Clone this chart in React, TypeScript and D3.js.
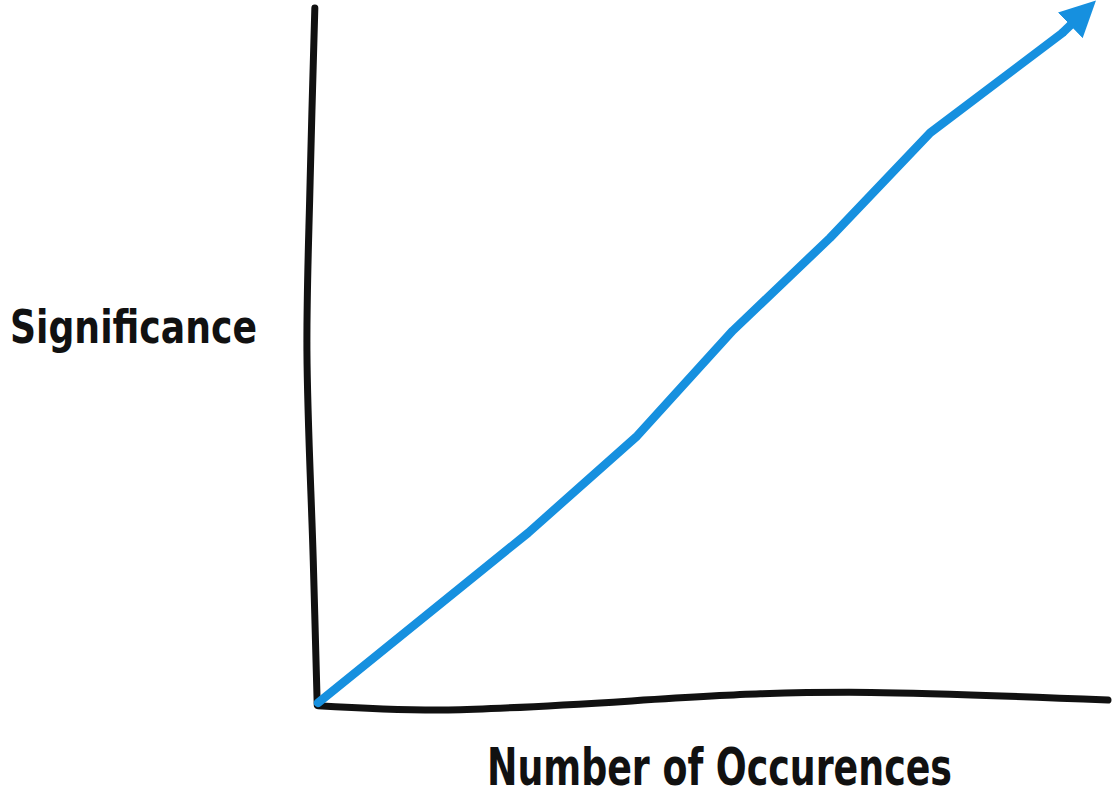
import { useEffect, useRef } from "react";
import * as d3 from "d3";

// Sketch-style chart: significance grows with number of occurrences.
// Everything is in abstract 0..100 units on both axes.
const seriesX = [0, 26.6, 40.4, 52.5, 64.8, 77.5, 94.2, 97.5];
const seriesY = [0.3, 24.7, 38.6, 53.7, 67.0, 82.1, 96.4, 100];

// hand-drawn wobble of the axes
const yAxisX = [-0.4, -1.0, -1.4, -0.6, -0.1];
const yAxisY = [100, 75, 50.8, 20.7, 0];
const xAxisX = [0, 16.5, 56, 70, 100];
const xAxisY = [-0.1, -0.7, 1.6, 1.8, 0.7];

const xLabel = "Number of Occurences";
const yLabel = "Significance";

const WIDTH = 1118;
const HEIGHT = 812;

export default function App() {
  const svgRef = useRef<SVGSVGElement>(null);

  useEffect(() => {
    if (!svgRef.current) return;
    const svg = d3.select(svgRef.current);
    svg.selectAll("*").remove();

    const x = d3.scaleLinear().domain([0, 100]).range([318, 1108]);
    const y = d3.scaleLinear().domain([0, 100]).range([705, 8]);

    const line = d3
      .line<[number, number]>()
      .x((d) => x(d[0]))
      .y((d) => y(d[1]));

    const smooth = d3
      .line<[number, number]>()
      .x((d) => x(d[0]))
      .y((d) => y(d[1]))
      .curve(d3.curveCatmullRom);

    const zip = (a: number[], b: number[]) =>
      a.map((v, i) => [v, b[i]] as [number, number]);

    svg
      .append("defs")
      .append("marker")
      .attr("id", "arrow")
      .attr("viewBox", "0 0 10 10")
      .attr("refX", 7)
      .attr("refY", 5)
      .attr("markerWidth", 4.2)
      .attr("markerHeight", 4.2)
      .attr("markerUnits", "strokeWidth")
      .attr("orient", "auto")
      .append("path")
      .attr("d", "M0,0 L10,5 L0,10 Z")
      .attr("fill", "#1690df");

    // axes
    for (const [ax, ay] of [
      [yAxisX, yAxisY],
      [xAxisX, xAxisY],
    ]) {
      svg
        .append("path")
        .attr("d", smooth(zip(ax, ay)))
        .attr("fill", "none")
        .attr("stroke", "#111")
        .attr("stroke-width", 7)
        .attr("stroke-linecap", "round")
        .attr("stroke-linejoin", "round");
    }

    // the series
    const pts = zip(seriesX, seriesY);
    svg
      .append("path")
      .attr("d", line(pts.slice(0, -1)))
      .attr("fill", "none")
      .attr("stroke", "#1690df")
      .attr("stroke-width", 8.5)
      .attr("stroke-linecap", "round")
      .attr("stroke-linejoin", "round");

    svg
      .append("path")
      .attr("d", line(pts.slice(-2)))
      .attr("fill", "none")
      .attr("stroke", "#1690df")
      .attr("stroke-width", 8.5)
      .attr("marker-end", "url(#arrow)");

    const font = "'Liberation Sans Narrow', 'DejaVu Sans Condensed', sans-serif";

    svg
      .append("text")
      .attr("x", 10)
      .attr("y", 343)
      .attr("font-family", font)
      .attr("font-size", 46)
      .attr("font-weight", "bold")
      .attr("textLength", 247)
      .attr("lengthAdjust", "spacingAndGlyphs")
      .attr("fill", "#111")
      .text(yLabel);

    svg
      .append("text")
      .attr("x", 487)
      .attr("y", 785)
      .attr("font-family", font)
      .attr("font-size", 52)
      .attr("font-weight", "bold")
      .attr("textLength", 465)
      .attr("lengthAdjust", "spacingAndGlyphs")
      .attr("fill", "#111")
      .text(xLabel);
  }, []);

  return (
    <svg
      ref={svgRef}
      width={WIDTH}
      height={HEIGHT}
      style={{ position: "absolute", left: 0, top: 0, background: "#fff", display: "block" }}
    />
  );
}
